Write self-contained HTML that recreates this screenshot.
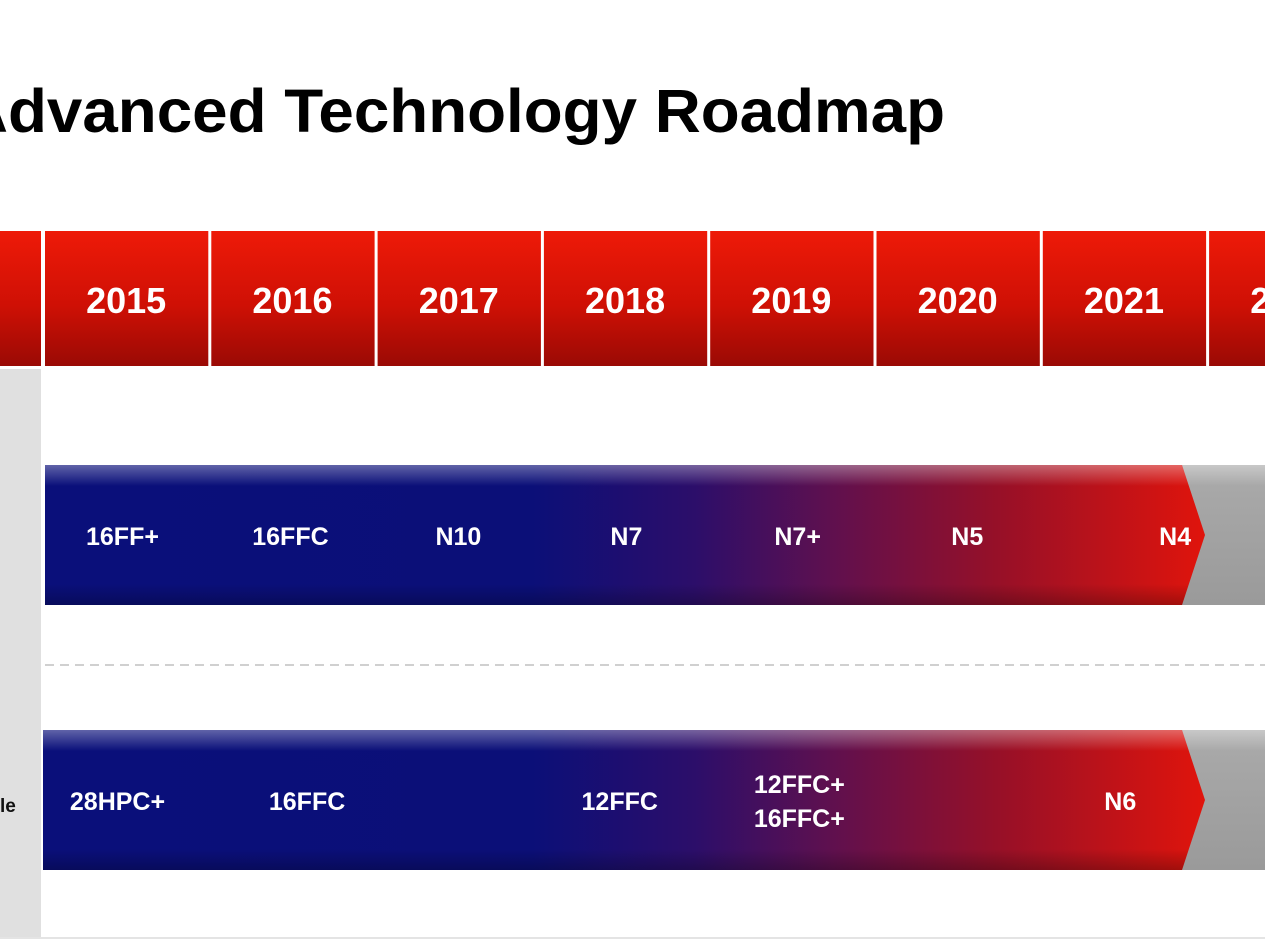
<!DOCTYPE html>
<html><head><meta charset="utf-8"><style>
html,body{margin:0;padding:0;background:#fff;}
svg{display:block;font-family:"Liberation Sans",Arial,sans-serif;}
</style></head><body>
<svg width="1265" height="949" viewBox="0 0 1265 949">
<defs>
<linearGradient id="hdr" x1="0" y1="0" x2="0" y2="1">
<stop offset="0" stop-color="#ee1a08"/><stop offset="0.55" stop-color="#cf1005"/><stop offset="1" stop-color="#9a0a05"/>
</linearGradient>
<linearGradient id="bar" x1="45" y1="0" x2="1205" y2="0" gradientUnits="userSpaceOnUse">
<stop offset="0" stop-color="#0a0f7a"/><stop offset="0.42" stop-color="#0b0f78"/><stop offset="0.56" stop-color="#2c0e6a"/>
<stop offset="0.68" stop-color="#60104e"/><stop offset="0.82" stop-color="#961028"/><stop offset="1" stop-color="#e0140c"/>
</linearGradient>
<linearGradient id="shine" x1="0" y1="0" x2="0" y2="1">
<stop offset="0" stop-color="#fff" stop-opacity="0.35"/><stop offset="0.15" stop-color="#fff" stop-opacity="0"/>
<stop offset="0.85" stop-color="#000" stop-opacity="0"/><stop offset="1" stop-color="#000" stop-opacity="0.25"/>
</linearGradient>
<linearGradient id="gray" x1="0" y1="0" x2="0" y2="1">
<stop offset="0" stop-color="#c8c8c8"/><stop offset="0.15" stop-color="#a8a8a8"/><stop offset="1" stop-color="#9a9a9a"/>
</linearGradient>
</defs>
<text x="-38" y="132" font-size="61" font-weight="bold" fill="#000" textLength="983" lengthAdjust="spacingAndGlyphs">Advanced Technology Roadmap</text>
<g id="header"></g>
<rect x="0" y="369" width="41" height="568" fill="#e0e0e0"/>
<text x="0" y="812" font-size="19" font-weight="bold" fill="#111">le</text>
<line x1="45" y1="665" x2="1265" y2="665" stroke="#d0d0d0" stroke-width="2" stroke-dasharray="9,6"/>
<line x1="0" y1="938" x2="1265" y2="938" stroke="#e4e4e4" stroke-width="2"/>
<g id="rows"></g>
</svg>
<script>
const years = ['2015','2016','2017','2018','2019','2020','2021','2022'];
const row1Labels = ['16FF+','16FFC','N10','N7','N7+','N5','N4'];
const row1Pos = [-0.01,1,2.01,3.02,4.05,5.07,6.32];
const row2Labels = ['28HPC+','16FFC','12FFC','12FFC+\n16FFC+','N6'];
const row2Pos = [-0.04,1.1,2.98,4.06,5.99];
const NS='http://www.w3.org/2000/svg';
const x0=45, colW=166.3;
function xCol(i){return x0+i*colW;}
const hdr=document.getElementById('header');
function mk(tag,attrs,parent){const e=document.createElementNS(NS,tag);for(const k in attrs)e.setAttribute(k,attrs[k]);parent.appendChild(e);return e;}
let r=mk('rect',{x:0,y:231,width:41,height:135,fill:'url(#hdr)'},hdr);


years.forEach((y,i)=>{
  const x=xCol(i);
  const c=mk('rect',{x:x,y:231,width:colW-3,height:135,fill:'url(#hdr)'},hdr);
  
  
  const t=mk('text',{x:x+colW/2-2,y:313,'font-size':36,'font-weight':'bold',fill:'#fff','text-anchor':'middle'},hdr);
  t.textContent=y;
  
  
});
const rows=document.getElementById('rows');
function drawRow(top,labels,pos,name,startX){
  const h=140,mid=top+h/2,tipBase=1182,tip=1205;
  const g=mk('rect',{x:tipBase,y:top,width:1265-tipBase,height:h,fill:'url(#gray)'},rows);
  
  
  const pts=`${startX},${top} ${tipBase},${top} ${tip},${mid} ${tipBase},${top+h} ${startX},${top+h}`;
  const a=mk('polygon',{points:pts,fill:'url(#bar)'},rows);
  
  
  const s=mk('polygon',{points:pts,fill:'url(#shine)'},rows);
  
  
  labels.forEach((l,i)=>{
    const cx=xCol(pos[i])+colW/2-4;
    const lines=l.split('\n');
    lines.forEach((ln,j)=>{
      const t=mk('text',{x:cx,y:mid+10+(j-(lines.length-1)/2)*34,'font-size':25,'font-weight':'bold',fill:'#fff','text-anchor':'middle'},rows);
      t.textContent=ln;
      
      
    });
  });
}
drawRow(465,row1Labels,row1Pos,'advanced-row',45);
drawRow(730,row2Labels,row2Pos,'mainstream-row',43);
</script>
</body></html>
